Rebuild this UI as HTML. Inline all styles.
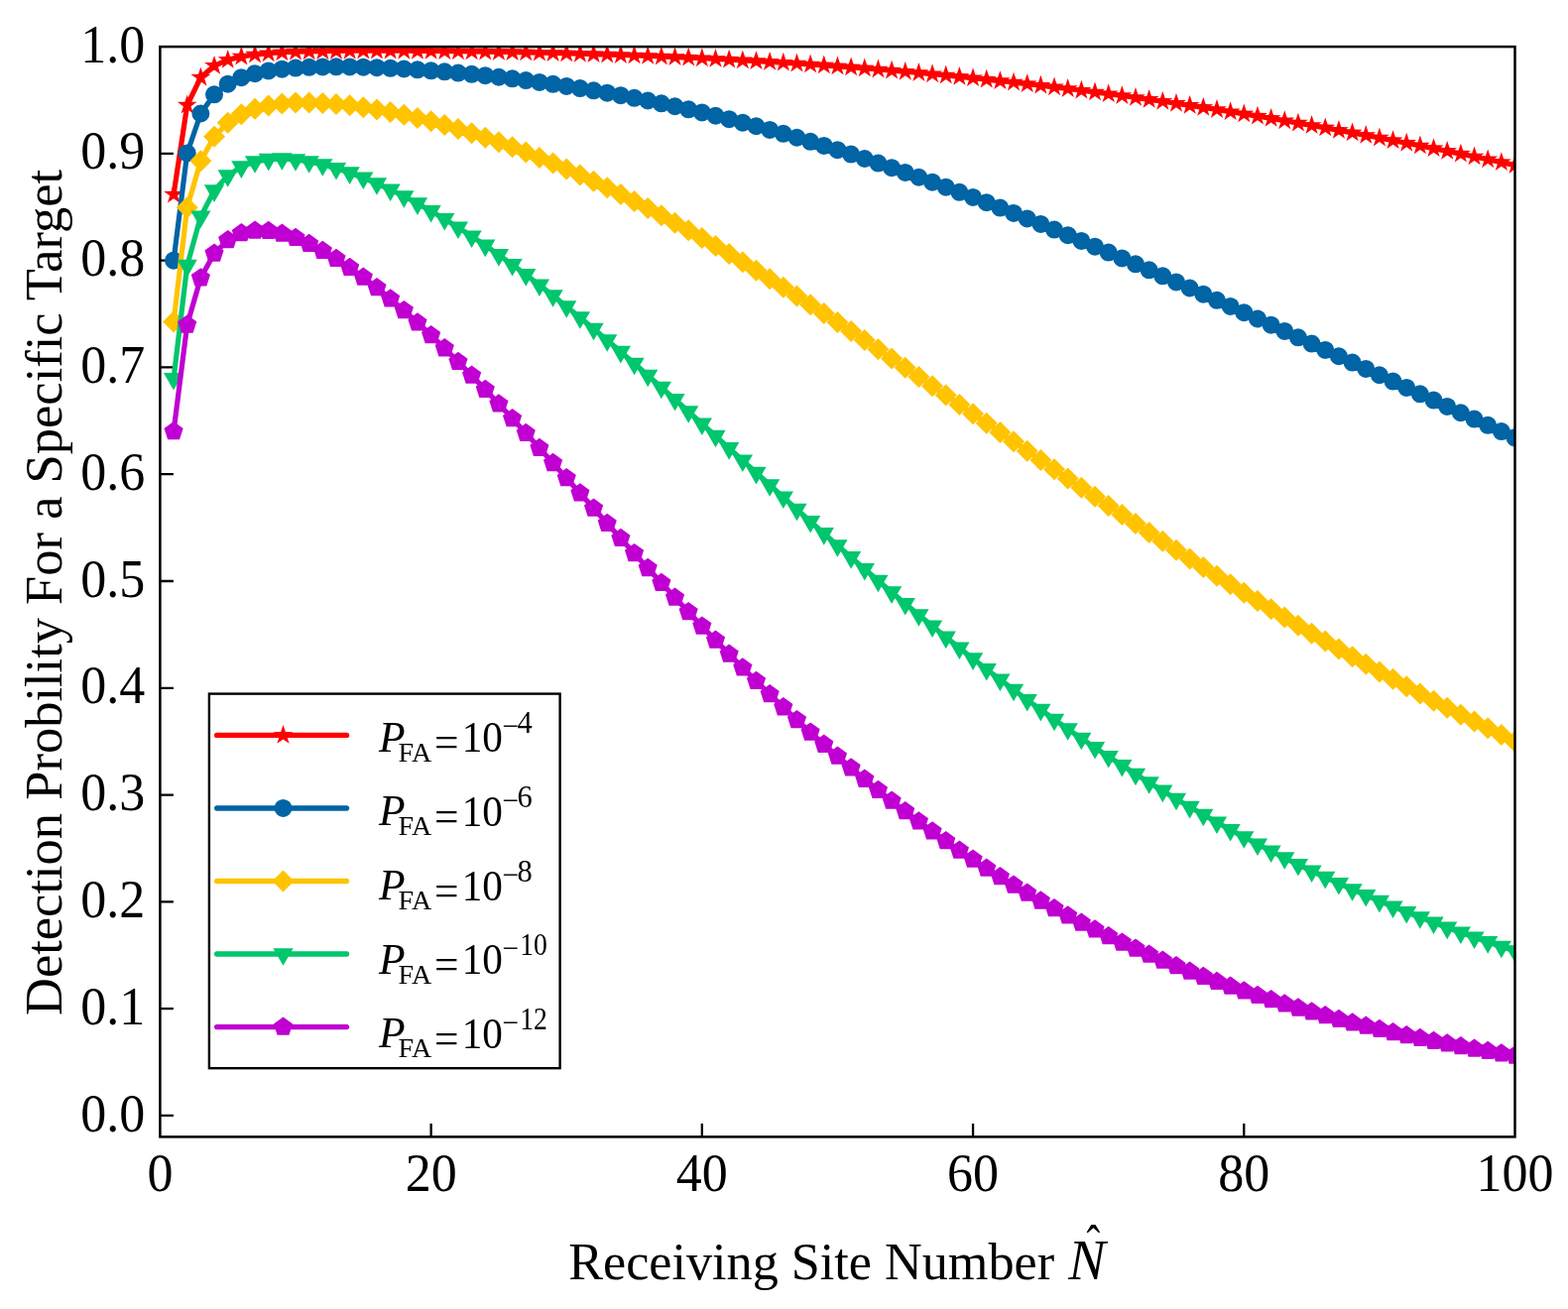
<!DOCTYPE html>
<html><head><meta charset="utf-8"><title>Detection Probability vs Receiving Site Number</title>
<style>
html,body{margin:0;padding:0;background:#fff;overflow:hidden;}
svg{display:block;}
text{font-family:"Liberation Serif","Times New Roman",serif;fill:#000;}
</style></head><body>
<svg width="1581" height="1320" viewBox="0 0 1581 1320">
<rect width="1581" height="1320" fill="#fff"/>
<defs><clipPath id="ax"><rect x="161.40" y="47.10" width="1366.10" height="1099.30"/></clipPath></defs>
<path d="M161.40,1017.12H174.90M161.40,909.34H174.90M161.40,801.56H174.90M161.40,693.78H174.90M161.40,586.00H174.90M161.40,478.22H174.90M161.40,370.44H174.90M161.40,262.66H174.90M161.40,154.88H174.90M161.40,1124.90H174.90M434.62,1146.40V1132.90M707.84,1146.40V1132.90M981.06,1146.40V1132.90M1254.28,1146.40V1132.90" stroke="#000" stroke-width="2.3" fill="none"/>
<g clip-path="url(#ax)">
<polyline fill="none" stroke="#FF0000" stroke-width="5.20" stroke-linejoin="round" stroke-linecap="round" points="175.06,196.11 188.72,106.02 202.38,78.11 216.04,66.32 229.71,60.40 243.37,57.07 257.03,55.04 270.69,53.74 284.35,52.87 298.01,52.27 311.67,51.86 325.33,51.57 338.99,51.38 352.65,51.26 366.31,51.19 379.98,51.18 393.64,51.19 407.30,51.25 420.96,51.33 434.62,51.44 448.28,51.57 461.94,51.73 475.60,51.92 489.26,52.12 502.92,52.35 516.59,52.60 530.25,52.88 543.91,53.17 557.57,53.50 571.23,53.84 584.89,54.21 598.55,54.61 612.21,55.03 625.87,55.48 639.53,55.95 653.20,56.46 666.86,56.99 680.52,57.55 694.18,58.14 707.84,58.77 721.50,59.42 735.16,60.11 748.82,60.83 762.48,61.58 776.14,62.37 789.81,63.19 803.47,64.05 817.13,64.95 830.79,65.88 844.45,66.85 858.11,67.86 871.77,68.90 885.43,69.99 899.09,71.11 912.75,72.28 926.42,73.48 940.08,74.73 953.74,76.01 967.40,77.34 981.06,78.71 994.72,80.12 1008.38,81.57 1022.04,83.07 1035.70,84.60 1049.37,86.18 1063.03,87.80 1076.69,89.47 1090.35,91.17 1104.01,92.92 1117.67,94.71 1131.33,96.54 1144.99,98.41 1158.65,100.33 1172.31,102.29 1185.98,104.28 1199.64,106.32 1213.30,108.40 1226.96,110.52 1240.62,112.68 1254.28,114.88 1267.94,117.12 1281.60,119.40 1295.26,121.72 1308.92,124.08 1322.59,126.47 1336.25,128.90 1349.91,131.37 1363.57,133.87 1377.23,136.41 1390.89,138.99 1404.55,141.60 1418.21,144.24 1431.87,146.92 1445.53,149.63 1459.19,152.37 1472.86,155.14 1486.52,157.95 1500.18,160.78 1513.84,163.65 1527.50,166.54"/>
<path fill="#FF0000" d="M175.06,185.71L172.68,192.83L165.17,192.90L171.20,197.36L168.95,204.52L175.06,200.17L181.17,204.52L178.92,197.36L184.95,192.90L177.45,192.83ZM188.72,95.62L186.34,102.74L178.83,102.81L184.86,107.28L182.61,114.44L188.72,110.08L194.83,114.44L192.58,107.28L198.61,102.81L191.11,102.74ZM202.38,67.71L200.00,74.83L192.49,74.90L198.53,79.37L196.27,86.53L202.38,82.17L208.50,86.53L206.24,79.37L212.27,74.90L204.77,74.83ZM216.04,55.92L213.66,63.04L206.15,63.11L212.19,67.58L209.93,74.74L216.04,70.38L222.16,74.74L219.90,67.58L225.93,63.11L218.43,63.04ZM229.71,50.00L227.32,57.12L219.81,57.19L225.85,61.65L223.59,68.81L229.71,64.46L235.82,68.81L233.56,61.65L239.60,57.19L232.09,57.12ZM243.37,46.67L240.98,53.79L233.48,53.86L239.51,58.32L237.25,65.48L243.37,61.13L249.48,65.48L247.22,58.32L253.26,53.86L245.75,53.79ZM257.03,44.64L254.64,51.76L247.14,51.83L253.17,56.30L250.91,63.46L257.03,59.10L263.14,63.46L260.88,56.30L266.92,51.83L259.41,51.76ZM270.69,43.34L268.30,50.46L260.80,50.53L266.83,54.99L264.58,62.16L270.69,57.80L276.80,62.16L274.55,54.99L280.58,50.53L273.07,50.46ZM284.35,42.47L281.96,49.59L274.46,49.66L280.49,54.12L278.24,61.28L284.35,56.93L290.46,61.28L288.21,54.12L294.24,49.66L286.73,49.59ZM298.01,41.87L295.63,48.99L288.12,49.06L294.15,53.53L291.90,60.69L298.01,56.33L304.12,60.69L301.87,53.53L307.90,49.06L300.39,48.99ZM311.67,41.46L309.29,48.58L301.78,48.64L307.81,53.11L305.56,60.27L311.67,55.91L317.78,60.27L315.53,53.11L321.56,48.64L314.06,48.58ZM325.33,41.17L322.95,48.29L315.44,48.36L321.47,52.83L319.22,59.99L325.33,55.63L331.44,59.99L329.19,52.83L335.22,48.36L327.72,48.29ZM338.99,40.98L336.61,48.10L329.10,48.17L335.14,52.63L332.88,59.79L338.99,55.44L345.11,59.79L342.85,52.63L348.88,48.17L341.38,48.10ZM352.65,40.86L350.27,47.98L342.76,48.05L348.80,52.51L346.54,59.67L352.65,55.32L358.77,59.67L356.51,52.51L362.54,48.05L355.04,47.98ZM366.31,40.79L363.93,47.91L356.42,47.98L362.46,52.45L360.20,59.61L366.31,55.25L372.43,59.61L370.17,52.45L376.21,47.98L368.70,47.91ZM379.98,40.78L377.59,47.89L370.09,47.96L376.12,52.43L373.86,59.59L379.98,55.23L386.09,59.59L383.83,52.43L389.87,47.96L382.36,47.89ZM393.64,40.79L391.25,47.91L383.75,47.98L389.78,52.45L387.52,59.61L393.64,55.25L399.75,59.61L397.49,52.45L403.53,47.98L396.02,47.91ZM407.30,40.85L404.91,47.97L397.41,48.03L403.44,52.50L401.19,59.66L407.30,55.30L413.41,59.66L411.16,52.50L417.19,48.03L409.68,47.97ZM420.96,40.93L418.57,48.05L411.07,48.12L417.10,52.58L414.85,59.74L420.96,55.39L427.07,59.74L424.82,52.58L430.85,48.12L423.34,48.05ZM434.62,41.04L432.24,48.16L424.73,48.23L430.76,52.69L428.51,59.85L434.62,55.50L440.73,59.85L438.48,52.69L444.51,48.23L437.00,48.16ZM448.28,41.17L445.90,48.29L438.39,48.36L444.42,52.83L442.17,59.99L448.28,55.63L454.39,59.99L452.14,52.83L458.17,48.36L450.67,48.29ZM461.94,41.33L459.56,48.45L452.05,48.52L458.08,52.99L455.83,60.15L461.94,55.79L468.05,60.15L465.80,52.99L471.83,48.52L464.33,48.45ZM475.60,41.52L473.22,48.64L465.71,48.70L471.75,53.17L469.49,60.33L475.60,55.97L481.72,60.33L479.46,53.17L485.49,48.70L477.99,48.64ZM489.26,41.72L486.88,48.84L479.37,48.91L485.41,53.38L483.15,60.54L489.26,56.18L495.38,60.54L493.12,53.38L499.15,48.91L491.65,48.84ZM502.92,41.95L500.54,49.07L493.03,49.14L499.07,53.60L496.81,60.76L502.92,56.41L509.04,60.76L506.78,53.60L512.82,49.14L505.31,49.07ZM516.59,42.20L514.20,49.32L506.70,49.39L512.73,53.86L510.47,61.02L516.59,56.66L522.70,61.02L520.44,53.86L526.48,49.39L518.97,49.32ZM530.25,42.48L527.86,49.60L520.36,49.66L526.39,54.13L524.13,61.29L530.25,56.93L536.36,61.29L534.10,54.13L540.14,49.66L532.63,49.60ZM543.91,42.77L541.52,49.89L534.02,49.96L540.05,54.43L537.80,61.59L543.91,57.23L550.02,61.59L547.77,54.43L553.80,49.96L546.29,49.89ZM557.57,43.10L555.18,50.21L547.68,50.28L553.71,54.75L551.46,61.91L557.57,57.55L563.68,61.91L561.43,54.75L567.46,50.28L559.95,50.21ZM571.23,43.44L568.85,50.56L561.34,50.63L567.37,55.09L565.12,62.26L571.23,57.90L577.34,62.26L575.09,55.09L581.12,50.63L573.61,50.56ZM584.89,43.81L582.51,50.93L575.00,51.00L581.03,55.47L578.78,62.63L584.89,58.27L591.00,62.63L588.75,55.47L594.78,51.00L587.28,50.93ZM598.55,44.21L596.17,51.33L588.66,51.39L594.69,55.86L592.44,63.02L598.55,58.66L604.66,63.02L602.41,55.86L608.44,51.39L600.94,51.33ZM612.21,44.63L609.83,51.75L602.32,51.82L608.36,56.28L606.10,63.44L612.21,59.09L618.33,63.44L616.07,56.28L622.10,51.82L614.60,51.75ZM625.87,45.08L623.49,52.20L615.98,52.26L622.02,56.73L619.76,63.89L625.87,59.53L631.99,63.89L629.73,56.73L635.76,52.26L628.26,52.20ZM639.53,45.55L637.15,52.67L629.64,52.74L635.68,57.21L633.42,64.37L639.53,60.01L645.65,64.37L643.39,57.21L649.43,52.74L641.92,52.67ZM653.20,46.06L650.81,53.18L643.31,53.24L649.34,57.71L647.08,64.87L653.20,60.51L659.31,64.87L657.05,57.71L663.09,53.24L655.58,53.18ZM666.86,46.59L664.47,53.71L656.97,53.78L663.00,58.24L660.74,65.40L666.86,61.05L672.97,65.40L670.71,58.24L676.75,53.78L669.24,53.71ZM680.52,47.15L678.13,54.27L670.63,54.34L676.66,58.80L674.41,65.96L680.52,61.61L686.63,65.96L684.38,58.80L690.41,54.34L682.90,54.27ZM694.18,47.74L691.79,54.86L684.29,54.93L690.32,59.40L688.07,66.56L694.18,62.20L700.29,66.56L698.04,59.40L704.07,54.93L696.56,54.86ZM707.84,48.37L705.46,55.48L697.95,55.55L703.98,60.02L701.73,67.18L707.84,62.82L713.95,67.18L711.70,60.02L717.73,55.55L710.22,55.48ZM721.50,49.02L719.12,56.14L711.61,56.21L717.64,60.67L715.39,67.83L721.50,63.48L727.61,67.83L725.36,60.67L731.39,56.21L723.89,56.14ZM735.16,49.71L732.78,56.83L725.27,56.89L731.30,61.36L729.05,68.52L735.16,64.16L741.27,68.52L739.02,61.36L745.05,56.89L737.55,56.83ZM748.82,50.43L746.44,57.55L738.93,57.61L744.97,62.08L742.71,69.24L748.82,64.88L754.94,69.24L752.68,62.08L758.71,57.61L751.21,57.55ZM762.48,51.18L760.10,58.30L752.59,58.37L758.63,62.84L756.37,70.00L762.48,65.64L768.60,70.00L766.34,62.84L772.37,58.37L764.87,58.30ZM776.14,51.97L773.76,59.09L766.25,59.16L772.29,63.62L770.03,70.78L776.14,66.43L782.26,70.78L780.00,63.62L786.04,59.16L778.53,59.09ZM789.81,52.79L787.42,59.91L779.92,59.98L785.95,64.45L783.69,71.61L789.81,67.25L795.92,71.61L793.66,64.45L799.70,59.98L792.19,59.91ZM803.47,53.65L801.08,60.77L793.58,60.84L799.61,65.31L797.35,72.47L803.47,68.11L809.58,72.47L807.32,65.31L813.36,60.84L805.85,60.77ZM817.13,54.55L814.74,61.67L807.24,61.73L813.27,66.20L811.02,73.36L817.13,69.00L823.24,73.36L820.99,66.20L827.02,61.73L819.51,61.67ZM830.79,55.48L828.40,62.60L820.90,62.67L826.93,67.13L824.68,74.29L830.79,69.94L836.90,74.29L834.65,67.13L840.68,62.67L833.17,62.60ZM844.45,56.45L842.07,63.57L834.56,63.64L840.59,68.10L838.34,75.26L844.45,70.91L850.56,75.26L848.31,68.10L854.34,63.64L846.83,63.57ZM858.11,57.46L855.73,64.58L848.22,64.64L854.25,69.11L852.00,76.27L858.11,71.91L864.22,76.27L861.97,69.11L868.00,64.64L860.50,64.58ZM871.77,58.50L869.39,65.62L861.88,65.69L867.91,70.16L865.66,77.32L871.77,72.96L877.88,77.32L875.63,70.16L881.66,65.69L874.16,65.62ZM885.43,59.59L883.05,66.71L875.54,66.78L881.58,71.24L879.32,78.40L885.43,74.04L891.55,78.40L889.29,71.24L895.32,66.78L887.82,66.71ZM899.09,60.71L896.71,67.83L889.20,67.90L895.24,72.37L892.98,79.53L899.09,75.17L905.21,79.53L902.95,72.37L908.98,67.90L901.48,67.83ZM912.75,61.88L910.37,69.00L902.86,69.06L908.90,73.53L906.64,80.69L912.75,76.33L918.87,80.69L916.61,73.53L922.65,69.06L915.14,69.00ZM926.42,63.08L924.03,70.20L916.53,70.27L922.56,74.74L920.30,81.90L926.42,77.54L932.53,81.90L930.27,74.74L936.31,70.27L928.80,70.20ZM940.08,64.33L937.69,71.45L930.19,71.51L936.22,75.98L933.96,83.14L940.08,78.78L946.19,83.14L943.93,75.98L949.97,71.51L942.46,71.45ZM953.74,65.61L951.35,72.73L943.85,72.80L949.88,77.27L947.63,84.43L953.74,80.07L959.85,84.43L957.60,77.27L963.63,72.80L956.12,72.73ZM967.40,66.94L965.01,74.06L957.51,74.13L963.54,78.59L961.29,85.75L967.40,81.40L973.51,85.75L971.26,78.59L977.29,74.13L969.78,74.06ZM981.06,68.31L978.68,75.43L971.17,75.50L977.20,79.96L974.95,87.12L981.06,82.77L987.17,87.12L984.92,79.96L990.95,75.50L983.44,75.43ZM994.72,69.72L992.34,76.84L984.83,76.91L990.86,81.37L988.61,88.53L994.72,84.18L1000.83,88.53L998.58,81.37L1004.61,76.91L997.11,76.84ZM1008.38,71.17L1006.00,78.29L998.49,78.36L1004.52,82.83L1002.27,89.99L1008.38,85.63L1014.49,89.99L1012.24,82.83L1018.27,78.36L1010.77,78.29ZM1022.04,72.67L1019.66,79.79L1012.15,79.85L1018.19,84.32L1015.93,91.48L1022.04,87.12L1028.16,91.48L1025.90,84.32L1031.93,79.85L1024.43,79.79ZM1035.70,74.20L1033.32,81.32L1025.81,81.39L1031.85,85.86L1029.59,93.02L1035.70,88.66L1041.82,93.02L1039.56,85.86L1045.59,81.39L1038.09,81.32ZM1049.37,75.78L1046.98,82.90L1039.47,82.97L1045.51,87.43L1043.25,94.60L1049.37,90.24L1055.48,94.60L1053.22,87.43L1059.26,82.97L1051.75,82.90ZM1063.03,77.40L1060.64,84.52L1053.14,84.59L1059.17,89.06L1056.91,96.22L1063.03,91.86L1069.14,96.22L1066.88,89.06L1072.92,84.59L1065.41,84.52ZM1076.69,79.07L1074.30,86.18L1066.80,86.25L1072.83,90.72L1070.57,97.88L1076.69,93.52L1082.80,97.88L1080.54,90.72L1086.58,86.25L1079.07,86.18ZM1090.35,80.77L1087.96,87.89L1080.46,87.96L1086.49,92.42L1084.24,99.58L1090.35,95.23L1096.46,99.58L1094.21,92.42L1100.24,87.96L1092.73,87.89ZM1104.01,82.52L1101.62,89.64L1094.12,89.70L1100.15,94.17L1097.90,101.33L1104.01,96.97L1110.12,101.33L1107.87,94.17L1113.90,89.70L1106.39,89.64ZM1117.67,84.31L1115.29,91.43L1107.78,91.49L1113.81,95.96L1111.56,103.12L1117.67,98.76L1123.78,103.12L1121.53,95.96L1127.56,91.49L1120.05,91.43ZM1131.33,86.14L1128.95,93.26L1121.44,93.33L1127.47,97.79L1125.22,104.95L1131.33,100.60L1137.44,104.95L1135.19,97.79L1141.22,93.33L1133.72,93.26ZM1144.99,88.01L1142.61,95.13L1135.10,95.20L1141.13,99.67L1138.88,106.83L1144.99,102.47L1151.10,106.83L1148.85,99.67L1154.88,95.20L1147.38,95.13ZM1158.65,89.93L1156.27,97.05L1148.76,97.11L1154.80,101.58L1152.54,108.74L1158.65,104.38L1164.77,108.74L1162.51,101.58L1168.54,97.11L1161.04,97.05ZM1172.31,91.89L1169.93,99.00L1162.42,99.07L1168.46,103.54L1166.20,110.70L1172.31,106.34L1178.43,110.70L1176.17,103.54L1182.20,99.07L1174.70,99.00ZM1185.98,93.88L1183.59,101.00L1176.08,101.07L1182.12,105.54L1179.86,112.70L1185.98,108.34L1192.09,112.70L1189.83,105.54L1195.87,101.07L1188.36,101.00ZM1199.64,95.92L1197.25,103.04L1189.75,103.11L1195.78,107.58L1193.52,114.74L1199.64,110.38L1205.75,114.74L1203.49,107.58L1209.53,103.11L1202.02,103.04ZM1213.30,98.00L1210.91,105.12L1203.41,105.19L1209.44,109.66L1207.18,116.82L1213.30,112.46L1219.41,116.82L1217.15,109.66L1223.19,105.19L1215.68,105.12ZM1226.96,100.12L1224.57,107.24L1217.07,107.31L1223.10,111.78L1220.85,118.94L1226.96,114.58L1233.07,118.94L1230.82,111.78L1236.85,107.31L1229.34,107.24ZM1240.62,102.28L1238.23,109.40L1230.73,109.47L1236.76,113.94L1234.51,121.10L1240.62,116.74L1246.73,121.10L1244.48,113.94L1250.51,109.47L1243.00,109.40ZM1254.28,104.48L1251.90,111.60L1244.39,111.67L1250.42,116.14L1248.17,123.30L1254.28,118.94L1260.39,123.30L1258.14,116.14L1264.17,111.67L1256.66,111.60ZM1267.94,106.72L1265.56,113.84L1258.05,113.91L1264.08,118.38L1261.83,125.54L1267.94,121.18L1274.05,125.54L1271.80,118.38L1277.83,113.91L1270.33,113.84ZM1281.60,109.00L1279.22,116.12L1271.71,116.19L1277.74,120.66L1275.49,127.82L1281.60,123.46L1287.71,127.82L1285.46,120.66L1291.49,116.19L1283.99,116.12ZM1295.26,111.32L1292.88,118.44L1285.37,118.51L1291.41,122.97L1289.15,130.14L1295.26,125.78L1301.38,130.14L1299.12,122.97L1305.15,118.51L1297.65,118.44ZM1308.92,113.68L1306.54,120.80L1299.03,120.86L1305.07,125.33L1302.81,132.49L1308.92,128.13L1315.04,132.49L1312.78,125.33L1318.81,120.86L1311.31,120.80ZM1322.59,116.07L1320.20,123.19L1312.69,123.26L1318.73,127.72L1316.47,134.88L1322.59,130.53L1328.70,134.88L1326.44,127.72L1332.48,123.26L1324.97,123.19ZM1336.25,118.50L1333.86,125.62L1326.36,125.69L1332.39,130.16L1330.13,137.32L1336.25,132.96L1342.36,137.32L1340.10,130.16L1346.14,125.69L1338.63,125.62ZM1349.91,120.97L1347.52,128.09L1340.02,128.16L1346.05,132.62L1343.79,139.78L1349.91,135.43L1356.02,139.78L1353.76,132.62L1359.80,128.16L1352.29,128.09ZM1363.57,123.47L1361.18,130.59L1353.68,130.66L1359.71,135.13L1357.46,142.29L1363.57,137.93L1369.68,142.29L1367.43,135.13L1373.46,130.66L1365.95,130.59ZM1377.23,126.01L1374.84,133.13L1367.34,133.20L1373.37,137.67L1371.12,144.83L1377.23,140.47L1383.34,144.83L1381.09,137.67L1387.12,133.20L1379.61,133.13ZM1390.89,128.59L1388.51,135.71L1381.00,135.77L1387.03,140.24L1384.78,147.40L1390.89,143.04L1397.00,147.40L1394.75,140.24L1400.78,135.77L1393.27,135.71ZM1404.55,131.20L1402.17,138.32L1394.66,138.38L1400.69,142.85L1398.44,150.01L1404.55,145.65L1410.66,150.01L1408.41,142.85L1414.44,138.38L1406.94,138.32ZM1418.21,133.84L1415.83,140.96L1408.32,141.03L1414.35,145.49L1412.10,152.65L1418.21,148.30L1424.32,152.65L1422.07,145.49L1428.10,141.03L1420.60,140.96ZM1431.87,136.52L1429.49,143.64L1421.98,143.70L1428.02,148.17L1425.76,155.33L1431.87,150.97L1437.99,155.33L1435.73,148.17L1441.76,143.70L1434.26,143.64ZM1445.53,139.23L1443.15,146.35L1435.64,146.41L1441.68,150.88L1439.42,158.04L1445.53,153.68L1451.65,158.04L1449.39,150.88L1455.42,146.41L1447.92,146.35ZM1459.19,141.97L1456.81,149.09L1449.30,149.16L1455.34,153.62L1453.08,160.78L1459.19,156.43L1465.31,160.78L1463.05,153.62L1469.09,149.16L1461.58,149.09ZM1472.86,144.74L1470.47,151.86L1462.97,151.93L1469.00,156.40L1466.74,163.56L1472.86,159.20L1478.97,163.56L1476.71,156.40L1482.75,151.93L1475.24,151.86ZM1486.52,147.55L1484.13,154.67L1476.63,154.73L1482.66,159.20L1480.40,166.36L1486.52,162.00L1492.63,166.36L1490.37,159.20L1496.41,154.73L1488.90,154.67ZM1500.18,150.38L1497.79,157.50L1490.29,157.57L1496.32,162.04L1494.07,169.20L1500.18,164.84L1506.29,169.20L1504.04,162.04L1510.07,157.57L1502.56,157.50ZM1513.84,153.25L1511.45,160.37L1503.95,160.44L1509.98,164.90L1507.73,172.06L1513.84,167.71L1519.95,172.06L1517.70,164.90L1523.73,160.44L1516.22,160.37ZM1527.50,156.14L1525.12,163.26L1517.61,163.33L1523.64,167.80L1521.39,174.96L1527.50,170.60L1533.61,174.96L1531.36,167.80L1537.39,163.33L1529.88,163.26Z"/>
<polyline fill="none" stroke="#0064A5" stroke-width="5.20" stroke-linejoin="round" stroke-linecap="round" points="175.06,262.70 188.72,154.48 202.38,114.51 216.04,95.28 229.71,84.63 243.37,78.21 257.03,74.13 270.69,71.45 284.35,69.68 298.01,68.52 311.67,67.82 325.33,67.44 338.99,67.34 352.65,67.44 366.31,67.73 379.98,68.18 393.64,68.77 407.30,69.49 420.96,70.33 434.62,71.29 448.28,72.36 461.94,73.55 475.60,74.84 489.26,76.23 502.92,77.74 516.59,79.35 530.25,81.07 543.91,82.90 557.57,84.84 571.23,86.88 584.89,89.04 598.55,91.30 612.21,93.68 625.87,96.17 639.53,98.77 653.20,101.49 666.86,104.31 680.52,107.25 694.18,110.31 707.84,113.47 721.50,116.75 735.16,120.14 748.82,123.64 762.48,127.26 776.14,130.98 789.81,134.81 803.47,138.75 817.13,142.79 830.79,146.94 844.45,151.19 858.11,155.54 871.77,160.00 885.43,164.55 899.09,169.19 912.75,173.93 926.42,178.76 940.08,183.68 953.74,188.69 967.40,193.77 981.06,198.94 994.72,204.19 1008.38,209.52 1022.04,214.92 1035.70,220.39 1049.37,225.92 1063.03,231.52 1076.69,237.19 1090.35,242.91 1104.01,248.69 1117.67,254.53 1131.33,260.41 1144.99,266.34 1158.65,272.32 1172.31,278.34 1185.98,284.40 1199.64,290.50 1213.30,296.63 1226.96,302.79 1240.62,308.98 1254.28,315.20 1267.94,321.44 1281.60,327.70 1295.26,333.98 1308.92,340.28 1322.59,346.59 1336.25,352.91 1349.91,359.24 1363.57,365.58 1377.23,371.92 1390.89,378.26 1404.55,384.60 1418.21,390.94 1431.87,397.28 1445.53,403.61 1459.19,409.93 1472.86,416.25 1486.52,422.55 1500.18,428.84 1513.84,435.11 1527.50,441.37"/>
<path fill="#0064A5" d="M166.06,262.70a9.00,9.00 0 1,0 18.00,0a9.00,9.00 0 1,0 -18.00,0ZM179.72,154.48a9.00,9.00 0 1,0 18.00,0a9.00,9.00 0 1,0 -18.00,0ZM193.38,114.51a9.00,9.00 0 1,0 18.00,0a9.00,9.00 0 1,0 -18.00,0ZM207.04,95.28a9.00,9.00 0 1,0 18.00,0a9.00,9.00 0 1,0 -18.00,0ZM220.71,84.63a9.00,9.00 0 1,0 18.00,0a9.00,9.00 0 1,0 -18.00,0ZM234.37,78.21a9.00,9.00 0 1,0 18.00,0a9.00,9.00 0 1,0 -18.00,0ZM248.03,74.13a9.00,9.00 0 1,0 18.00,0a9.00,9.00 0 1,0 -18.00,0ZM261.69,71.45a9.00,9.00 0 1,0 18.00,0a9.00,9.00 0 1,0 -18.00,0ZM275.35,69.68a9.00,9.00 0 1,0 18.00,0a9.00,9.00 0 1,0 -18.00,0ZM289.01,68.52a9.00,9.00 0 1,0 18.00,0a9.00,9.00 0 1,0 -18.00,0ZM302.67,67.82a9.00,9.00 0 1,0 18.00,0a9.00,9.00 0 1,0 -18.00,0ZM316.33,67.44a9.00,9.00 0 1,0 18.00,0a9.00,9.00 0 1,0 -18.00,0ZM329.99,67.34a9.00,9.00 0 1,0 18.00,0a9.00,9.00 0 1,0 -18.00,0ZM343.65,67.44a9.00,9.00 0 1,0 18.00,0a9.00,9.00 0 1,0 -18.00,0ZM357.31,67.73a9.00,9.00 0 1,0 18.00,0a9.00,9.00 0 1,0 -18.00,0ZM370.98,68.18a9.00,9.00 0 1,0 18.00,0a9.00,9.00 0 1,0 -18.00,0ZM384.64,68.77a9.00,9.00 0 1,0 18.00,0a9.00,9.00 0 1,0 -18.00,0ZM398.30,69.49a9.00,9.00 0 1,0 18.00,0a9.00,9.00 0 1,0 -18.00,0ZM411.96,70.33a9.00,9.00 0 1,0 18.00,0a9.00,9.00 0 1,0 -18.00,0ZM425.62,71.29a9.00,9.00 0 1,0 18.00,0a9.00,9.00 0 1,0 -18.00,0ZM439.28,72.36a9.00,9.00 0 1,0 18.00,0a9.00,9.00 0 1,0 -18.00,0ZM452.94,73.55a9.00,9.00 0 1,0 18.00,0a9.00,9.00 0 1,0 -18.00,0ZM466.60,74.84a9.00,9.00 0 1,0 18.00,0a9.00,9.00 0 1,0 -18.00,0ZM480.26,76.23a9.00,9.00 0 1,0 18.00,0a9.00,9.00 0 1,0 -18.00,0ZM493.92,77.74a9.00,9.00 0 1,0 18.00,0a9.00,9.00 0 1,0 -18.00,0ZM507.59,79.35a9.00,9.00 0 1,0 18.00,0a9.00,9.00 0 1,0 -18.00,0ZM521.25,81.07a9.00,9.00 0 1,0 18.00,0a9.00,9.00 0 1,0 -18.00,0ZM534.91,82.90a9.00,9.00 0 1,0 18.00,0a9.00,9.00 0 1,0 -18.00,0ZM548.57,84.84a9.00,9.00 0 1,0 18.00,0a9.00,9.00 0 1,0 -18.00,0ZM562.23,86.88a9.00,9.00 0 1,0 18.00,0a9.00,9.00 0 1,0 -18.00,0ZM575.89,89.04a9.00,9.00 0 1,0 18.00,0a9.00,9.00 0 1,0 -18.00,0ZM589.55,91.30a9.00,9.00 0 1,0 18.00,0a9.00,9.00 0 1,0 -18.00,0ZM603.21,93.68a9.00,9.00 0 1,0 18.00,0a9.00,9.00 0 1,0 -18.00,0ZM616.87,96.17a9.00,9.00 0 1,0 18.00,0a9.00,9.00 0 1,0 -18.00,0ZM630.53,98.77a9.00,9.00 0 1,0 18.00,0a9.00,9.00 0 1,0 -18.00,0ZM644.20,101.49a9.00,9.00 0 1,0 18.00,0a9.00,9.00 0 1,0 -18.00,0ZM657.86,104.31a9.00,9.00 0 1,0 18.00,0a9.00,9.00 0 1,0 -18.00,0ZM671.52,107.25a9.00,9.00 0 1,0 18.00,0a9.00,9.00 0 1,0 -18.00,0ZM685.18,110.31a9.00,9.00 0 1,0 18.00,0a9.00,9.00 0 1,0 -18.00,0ZM698.84,113.47a9.00,9.00 0 1,0 18.00,0a9.00,9.00 0 1,0 -18.00,0ZM712.50,116.75a9.00,9.00 0 1,0 18.00,0a9.00,9.00 0 1,0 -18.00,0ZM726.16,120.14a9.00,9.00 0 1,0 18.00,0a9.00,9.00 0 1,0 -18.00,0ZM739.82,123.64a9.00,9.00 0 1,0 18.00,0a9.00,9.00 0 1,0 -18.00,0ZM753.48,127.26a9.00,9.00 0 1,0 18.00,0a9.00,9.00 0 1,0 -18.00,0ZM767.14,130.98a9.00,9.00 0 1,0 18.00,0a9.00,9.00 0 1,0 -18.00,0ZM780.81,134.81a9.00,9.00 0 1,0 18.00,0a9.00,9.00 0 1,0 -18.00,0ZM794.47,138.75a9.00,9.00 0 1,0 18.00,0a9.00,9.00 0 1,0 -18.00,0ZM808.13,142.79a9.00,9.00 0 1,0 18.00,0a9.00,9.00 0 1,0 -18.00,0ZM821.79,146.94a9.00,9.00 0 1,0 18.00,0a9.00,9.00 0 1,0 -18.00,0ZM835.45,151.19a9.00,9.00 0 1,0 18.00,0a9.00,9.00 0 1,0 -18.00,0ZM849.11,155.54a9.00,9.00 0 1,0 18.00,0a9.00,9.00 0 1,0 -18.00,0ZM862.77,160.00a9.00,9.00 0 1,0 18.00,0a9.00,9.00 0 1,0 -18.00,0ZM876.43,164.55a9.00,9.00 0 1,0 18.00,0a9.00,9.00 0 1,0 -18.00,0ZM890.09,169.19a9.00,9.00 0 1,0 18.00,0a9.00,9.00 0 1,0 -18.00,0ZM903.75,173.93a9.00,9.00 0 1,0 18.00,0a9.00,9.00 0 1,0 -18.00,0ZM917.42,178.76a9.00,9.00 0 1,0 18.00,0a9.00,9.00 0 1,0 -18.00,0ZM931.08,183.68a9.00,9.00 0 1,0 18.00,0a9.00,9.00 0 1,0 -18.00,0ZM944.74,188.69a9.00,9.00 0 1,0 18.00,0a9.00,9.00 0 1,0 -18.00,0ZM958.40,193.77a9.00,9.00 0 1,0 18.00,0a9.00,9.00 0 1,0 -18.00,0ZM972.06,198.94a9.00,9.00 0 1,0 18.00,0a9.00,9.00 0 1,0 -18.00,0ZM985.72,204.19a9.00,9.00 0 1,0 18.00,0a9.00,9.00 0 1,0 -18.00,0ZM999.38,209.52a9.00,9.00 0 1,0 18.00,0a9.00,9.00 0 1,0 -18.00,0ZM1013.04,214.92a9.00,9.00 0 1,0 18.00,0a9.00,9.00 0 1,0 -18.00,0ZM1026.70,220.39a9.00,9.00 0 1,0 18.00,0a9.00,9.00 0 1,0 -18.00,0ZM1040.37,225.92a9.00,9.00 0 1,0 18.00,0a9.00,9.00 0 1,0 -18.00,0ZM1054.03,231.52a9.00,9.00 0 1,0 18.00,0a9.00,9.00 0 1,0 -18.00,0ZM1067.69,237.19a9.00,9.00 0 1,0 18.00,0a9.00,9.00 0 1,0 -18.00,0ZM1081.35,242.91a9.00,9.00 0 1,0 18.00,0a9.00,9.00 0 1,0 -18.00,0ZM1095.01,248.69a9.00,9.00 0 1,0 18.00,0a9.00,9.00 0 1,0 -18.00,0ZM1108.67,254.53a9.00,9.00 0 1,0 18.00,0a9.00,9.00 0 1,0 -18.00,0ZM1122.33,260.41a9.00,9.00 0 1,0 18.00,0a9.00,9.00 0 1,0 -18.00,0ZM1135.99,266.34a9.00,9.00 0 1,0 18.00,0a9.00,9.00 0 1,0 -18.00,0ZM1149.65,272.32a9.00,9.00 0 1,0 18.00,0a9.00,9.00 0 1,0 -18.00,0ZM1163.31,278.34a9.00,9.00 0 1,0 18.00,0a9.00,9.00 0 1,0 -18.00,0ZM1176.98,284.40a9.00,9.00 0 1,0 18.00,0a9.00,9.00 0 1,0 -18.00,0ZM1190.64,290.50a9.00,9.00 0 1,0 18.00,0a9.00,9.00 0 1,0 -18.00,0ZM1204.30,296.63a9.00,9.00 0 1,0 18.00,0a9.00,9.00 0 1,0 -18.00,0ZM1217.96,302.79a9.00,9.00 0 1,0 18.00,0a9.00,9.00 0 1,0 -18.00,0ZM1231.62,308.98a9.00,9.00 0 1,0 18.00,0a9.00,9.00 0 1,0 -18.00,0ZM1245.28,315.20a9.00,9.00 0 1,0 18.00,0a9.00,9.00 0 1,0 -18.00,0ZM1258.94,321.44a9.00,9.00 0 1,0 18.00,0a9.00,9.00 0 1,0 -18.00,0ZM1272.60,327.70a9.00,9.00 0 1,0 18.00,0a9.00,9.00 0 1,0 -18.00,0ZM1286.26,333.98a9.00,9.00 0 1,0 18.00,0a9.00,9.00 0 1,0 -18.00,0ZM1299.92,340.28a9.00,9.00 0 1,0 18.00,0a9.00,9.00 0 1,0 -18.00,0ZM1313.59,346.59a9.00,9.00 0 1,0 18.00,0a9.00,9.00 0 1,0 -18.00,0ZM1327.25,352.91a9.00,9.00 0 1,0 18.00,0a9.00,9.00 0 1,0 -18.00,0ZM1340.91,359.24a9.00,9.00 0 1,0 18.00,0a9.00,9.00 0 1,0 -18.00,0ZM1354.57,365.58a9.00,9.00 0 1,0 18.00,0a9.00,9.00 0 1,0 -18.00,0ZM1368.23,371.92a9.00,9.00 0 1,0 18.00,0a9.00,9.00 0 1,0 -18.00,0ZM1381.89,378.26a9.00,9.00 0 1,0 18.00,0a9.00,9.00 0 1,0 -18.00,0ZM1395.55,384.60a9.00,9.00 0 1,0 18.00,0a9.00,9.00 0 1,0 -18.00,0ZM1409.21,390.94a9.00,9.00 0 1,0 18.00,0a9.00,9.00 0 1,0 -18.00,0ZM1422.87,397.28a9.00,9.00 0 1,0 18.00,0a9.00,9.00 0 1,0 -18.00,0ZM1436.53,403.61a9.00,9.00 0 1,0 18.00,0a9.00,9.00 0 1,0 -18.00,0ZM1450.19,409.93a9.00,9.00 0 1,0 18.00,0a9.00,9.00 0 1,0 -18.00,0ZM1463.86,416.25a9.00,9.00 0 1,0 18.00,0a9.00,9.00 0 1,0 -18.00,0ZM1477.52,422.55a9.00,9.00 0 1,0 18.00,0a9.00,9.00 0 1,0 -18.00,0ZM1491.18,428.84a9.00,9.00 0 1,0 18.00,0a9.00,9.00 0 1,0 -18.00,0ZM1504.84,435.11a9.00,9.00 0 1,0 18.00,0a9.00,9.00 0 1,0 -18.00,0ZM1518.50,441.37a9.00,9.00 0 1,0 18.00,0a9.00,9.00 0 1,0 -18.00,0Z"/>
<polyline fill="none" stroke="#FFC300" stroke-width="5.20" stroke-linejoin="round" stroke-linecap="round" points="175.06,324.52 188.72,209.34 202.38,162.20 216.04,137.86 229.71,123.79 243.37,115.16 257.03,109.74 270.69,106.39 284.35,104.45 298.01,103.53 311.67,103.40 325.33,103.89 338.99,104.90 352.65,106.36 366.31,108.21 379.98,110.42 393.64,112.95 407.30,115.79 420.96,118.92 434.62,122.34 448.28,126.02 461.94,129.97 475.60,134.18 489.26,138.64 502.92,143.35 516.59,148.30 530.25,153.48 543.91,158.90 557.57,164.54 571.23,170.41 584.89,176.50 598.55,182.80 612.21,189.31 625.87,196.01 639.53,202.92 653.20,210.01 666.86,217.28 680.52,224.73 694.18,232.34 707.84,240.12 721.50,248.05 735.16,256.12 748.82,264.33 762.48,272.67 776.14,281.13 789.81,289.71 803.47,298.39 817.13,307.17 830.79,316.04 844.45,324.99 858.11,334.01 871.77,343.10 885.43,352.25 899.09,361.45 912.75,370.69 926.42,379.97 940.08,389.28 953.74,398.60 967.40,407.95 981.06,417.30 994.72,426.65 1008.38,436.00 1022.04,445.34 1035.70,454.66 1049.37,463.96 1063.03,473.23 1076.69,482.47 1090.35,491.67 1104.01,500.83 1117.67,509.95 1131.33,519.01 1144.99,528.02 1158.65,536.97 1172.31,545.85 1185.98,554.68 1199.64,563.43 1213.30,572.11 1226.96,580.72 1240.62,589.25 1254.28,597.70 1267.94,606.06 1281.60,614.35 1295.26,622.55 1308.92,630.65 1322.59,638.68 1336.25,646.61 1349.91,654.44 1363.57,662.19 1377.23,669.84 1390.89,677.40 1404.55,684.86 1418.21,692.22 1431.87,699.49 1445.53,706.66 1459.19,713.73 1472.86,720.70 1486.52,727.58 1500.18,734.36 1513.84,741.04 1527.50,747.63"/>
<path fill="#FFC300" d="M175.06,313.52L186.06,324.52L175.06,335.52L164.06,324.52ZM188.72,198.34L199.72,209.34L188.72,220.34L177.72,209.34ZM202.38,151.20L213.38,162.20L202.38,173.20L191.38,162.20ZM216.04,126.86L227.04,137.86L216.04,148.86L205.04,137.86ZM229.71,112.79L240.71,123.79L229.71,134.79L218.71,123.79ZM243.37,104.16L254.37,115.16L243.37,126.16L232.37,115.16ZM257.03,98.74L268.03,109.74L257.03,120.74L246.03,109.74ZM270.69,95.39L281.69,106.39L270.69,117.39L259.69,106.39ZM284.35,93.45L295.35,104.45L284.35,115.45L273.35,104.45ZM298.01,92.53L309.01,103.53L298.01,114.53L287.01,103.53ZM311.67,92.40L322.67,103.40L311.67,114.40L300.67,103.40ZM325.33,92.89L336.33,103.89L325.33,114.89L314.33,103.89ZM338.99,93.90L349.99,104.90L338.99,115.90L327.99,104.90ZM352.65,95.36L363.65,106.36L352.65,117.36L341.65,106.36ZM366.31,97.21L377.31,108.21L366.31,119.21L355.31,108.21ZM379.98,99.42L390.98,110.42L379.98,121.42L368.98,110.42ZM393.64,101.95L404.64,112.95L393.64,123.95L382.64,112.95ZM407.30,104.79L418.30,115.79L407.30,126.79L396.30,115.79ZM420.96,107.92L431.96,118.92L420.96,129.92L409.96,118.92ZM434.62,111.34L445.62,122.34L434.62,133.34L423.62,122.34ZM448.28,115.02L459.28,126.02L448.28,137.02L437.28,126.02ZM461.94,118.97L472.94,129.97L461.94,140.97L450.94,129.97ZM475.60,123.18L486.60,134.18L475.60,145.18L464.60,134.18ZM489.26,127.64L500.26,138.64L489.26,149.64L478.26,138.64ZM502.92,132.35L513.92,143.35L502.92,154.35L491.92,143.35ZM516.59,137.30L527.59,148.30L516.59,159.30L505.59,148.30ZM530.25,142.48L541.25,153.48L530.25,164.48L519.25,153.48ZM543.91,147.90L554.91,158.90L543.91,169.90L532.91,158.90ZM557.57,153.54L568.57,164.54L557.57,175.54L546.57,164.54ZM571.23,159.41L582.23,170.41L571.23,181.41L560.23,170.41ZM584.89,165.50L595.89,176.50L584.89,187.50L573.89,176.50ZM598.55,171.80L609.55,182.80L598.55,193.80L587.55,182.80ZM612.21,178.31L623.21,189.31L612.21,200.31L601.21,189.31ZM625.87,185.01L636.87,196.01L625.87,207.01L614.87,196.01ZM639.53,191.92L650.53,202.92L639.53,213.92L628.53,202.92ZM653.20,199.01L664.20,210.01L653.20,221.01L642.20,210.01ZM666.86,206.28L677.86,217.28L666.86,228.28L655.86,217.28ZM680.52,213.73L691.52,224.73L680.52,235.73L669.52,224.73ZM694.18,221.34L705.18,232.34L694.18,243.34L683.18,232.34ZM707.84,229.12L718.84,240.12L707.84,251.12L696.84,240.12ZM721.50,237.05L732.50,248.05L721.50,259.05L710.50,248.05ZM735.16,245.12L746.16,256.12L735.16,267.12L724.16,256.12ZM748.82,253.33L759.82,264.33L748.82,275.33L737.82,264.33ZM762.48,261.67L773.48,272.67L762.48,283.67L751.48,272.67ZM776.14,270.13L787.14,281.13L776.14,292.13L765.14,281.13ZM789.81,278.71L800.81,289.71L789.81,300.71L778.81,289.71ZM803.47,287.39L814.47,298.39L803.47,309.39L792.47,298.39ZM817.13,296.17L828.13,307.17L817.13,318.17L806.13,307.17ZM830.79,305.04L841.79,316.04L830.79,327.04L819.79,316.04ZM844.45,313.99L855.45,324.99L844.45,335.99L833.45,324.99ZM858.11,323.01L869.11,334.01L858.11,345.01L847.11,334.01ZM871.77,332.10L882.77,343.10L871.77,354.10L860.77,343.10ZM885.43,341.25L896.43,352.25L885.43,363.25L874.43,352.25ZM899.09,350.45L910.09,361.45L899.09,372.45L888.09,361.45ZM912.75,359.69L923.75,370.69L912.75,381.69L901.75,370.69ZM926.42,368.97L937.42,379.97L926.42,390.97L915.42,379.97ZM940.08,378.28L951.08,389.28L940.08,400.28L929.08,389.28ZM953.74,387.60L964.74,398.60L953.74,409.60L942.74,398.60ZM967.40,396.95L978.40,407.95L967.40,418.95L956.40,407.95ZM981.06,406.30L992.06,417.30L981.06,428.30L970.06,417.30ZM994.72,415.65L1005.72,426.65L994.72,437.65L983.72,426.65ZM1008.38,425.00L1019.38,436.00L1008.38,447.00L997.38,436.00ZM1022.04,434.34L1033.04,445.34L1022.04,456.34L1011.04,445.34ZM1035.70,443.66L1046.70,454.66L1035.70,465.66L1024.70,454.66ZM1049.37,452.96L1060.37,463.96L1049.37,474.96L1038.37,463.96ZM1063.03,462.23L1074.03,473.23L1063.03,484.23L1052.03,473.23ZM1076.69,471.47L1087.69,482.47L1076.69,493.47L1065.69,482.47ZM1090.35,480.67L1101.35,491.67L1090.35,502.67L1079.35,491.67ZM1104.01,489.83L1115.01,500.83L1104.01,511.83L1093.01,500.83ZM1117.67,498.95L1128.67,509.95L1117.67,520.95L1106.67,509.95ZM1131.33,508.01L1142.33,519.01L1131.33,530.01L1120.33,519.01ZM1144.99,517.02L1155.99,528.02L1144.99,539.02L1133.99,528.02ZM1158.65,525.97L1169.65,536.97L1158.65,547.97L1147.65,536.97ZM1172.31,534.85L1183.31,545.85L1172.31,556.85L1161.31,545.85ZM1185.98,543.68L1196.98,554.68L1185.98,565.68L1174.98,554.68ZM1199.64,552.43L1210.64,563.43L1199.64,574.43L1188.64,563.43ZM1213.30,561.11L1224.30,572.11L1213.30,583.11L1202.30,572.11ZM1226.96,569.72L1237.96,580.72L1226.96,591.72L1215.96,580.72ZM1240.62,578.25L1251.62,589.25L1240.62,600.25L1229.62,589.25ZM1254.28,586.70L1265.28,597.70L1254.28,608.70L1243.28,597.70ZM1267.94,595.06L1278.94,606.06L1267.94,617.06L1256.94,606.06ZM1281.60,603.35L1292.60,614.35L1281.60,625.35L1270.60,614.35ZM1295.26,611.55L1306.26,622.55L1295.26,633.55L1284.26,622.55ZM1308.92,619.65L1319.92,630.65L1308.92,641.65L1297.92,630.65ZM1322.59,627.68L1333.59,638.68L1322.59,649.68L1311.59,638.68ZM1336.25,635.61L1347.25,646.61L1336.25,657.61L1325.25,646.61ZM1349.91,643.44L1360.91,654.44L1349.91,665.44L1338.91,654.44ZM1363.57,651.19L1374.57,662.19L1363.57,673.19L1352.57,662.19ZM1377.23,658.84L1388.23,669.84L1377.23,680.84L1366.23,669.84ZM1390.89,666.40L1401.89,677.40L1390.89,688.40L1379.89,677.40ZM1404.55,673.86L1415.55,684.86L1404.55,695.86L1393.55,684.86ZM1418.21,681.22L1429.21,692.22L1418.21,703.22L1407.21,692.22ZM1431.87,688.49L1442.87,699.49L1431.87,710.49L1420.87,699.49ZM1445.53,695.66L1456.53,706.66L1445.53,717.66L1434.53,706.66ZM1459.19,702.73L1470.19,713.73L1459.19,724.73L1448.19,713.73ZM1472.86,709.70L1483.86,720.70L1472.86,731.70L1461.86,720.70ZM1486.52,716.58L1497.52,727.58L1486.52,738.58L1475.52,727.58ZM1500.18,723.36L1511.18,734.36L1500.18,745.36L1489.18,734.36ZM1513.84,730.04L1524.84,741.04L1513.84,752.04L1502.84,741.04ZM1527.50,736.63L1538.50,747.63L1527.50,758.63L1516.50,747.63Z"/>
<polyline fill="none" stroke="#00C66D" stroke-width="5.20" stroke-linejoin="round" stroke-linecap="round" points="175.06,381.90 188.72,267.71 202.38,218.37 216.04,192.20 229.71,177.09 243.37,168.18 257.03,163.14 270.69,160.70 284.35,160.14 298.01,161.01 311.67,163.02 325.33,165.98 338.99,169.74 352.65,174.22 366.31,179.33 379.98,185.03 393.64,191.26 407.30,198.00 420.96,205.21 434.62,212.86 448.28,220.92 461.94,229.39 475.60,238.24 489.26,247.43 502.92,256.97 516.59,266.82 530.25,276.97 543.91,287.40 557.57,298.08 571.23,309.01 584.89,320.15 598.55,331.50 612.21,343.03 625.87,354.72 639.53,366.56 653.20,378.52 666.86,390.59 680.52,402.75 694.18,414.99 707.84,427.28 721.50,439.61 735.16,451.97 748.82,464.33 762.48,476.69 776.14,489.04 789.81,501.34 803.47,513.60 817.13,525.81 830.79,537.94 844.45,550.00 858.11,561.96 871.77,573.82 885.43,585.58 899.09,597.21 912.75,608.73 926.42,620.11 940.08,631.35 953.74,642.44 967.40,653.39 981.06,664.18 994.72,674.82 1008.38,685.29 1022.04,695.59 1035.70,705.73 1049.37,715.69 1063.03,725.48 1076.69,735.10 1090.35,744.54 1104.01,753.81 1117.67,762.89 1131.33,771.80 1144.99,780.53 1158.65,789.09 1172.31,797.47 1185.98,805.67 1199.64,813.70 1213.30,821.55 1226.96,829.23 1240.62,836.74 1254.28,844.09 1267.94,851.26 1281.60,858.27 1295.26,865.12 1308.92,871.80 1322.59,878.33 1336.25,884.70 1349.91,890.92 1363.57,896.99 1377.23,902.91 1390.89,908.68 1404.55,914.31 1418.21,919.80 1431.87,925.15 1445.53,930.37 1459.19,935.45 1472.86,940.41 1486.52,945.23 1500.18,949.94 1513.84,954.52 1527.50,958.98"/>
<path fill="#00C66D" d="M175.06,393.60L185.19,376.05L164.93,376.05ZM188.72,279.41L198.85,261.86L178.59,261.86ZM202.38,230.07L212.52,212.52L192.25,212.52ZM216.04,203.90L226.18,186.35L205.91,186.35ZM229.71,188.79L239.84,171.24L219.57,171.24ZM243.37,179.88L253.50,162.33L233.23,162.33ZM257.03,174.84L267.16,157.29L246.89,157.29ZM270.69,172.40L280.82,154.85L260.56,154.85ZM284.35,171.84L294.48,154.29L274.22,154.29ZM298.01,172.71L308.14,155.16L287.88,155.16ZM311.67,174.72L321.80,157.17L301.54,157.17ZM325.33,177.68L335.46,160.13L315.20,160.13ZM338.99,181.44L349.13,163.89L328.86,163.89ZM352.65,185.92L362.79,168.37L342.52,168.37ZM366.31,191.03L376.45,173.48L356.18,173.48ZM379.98,196.73L390.11,179.18L369.84,179.18ZM393.64,202.96L403.77,185.41L383.50,185.41ZM407.30,209.70L417.43,192.15L397.17,192.15ZM420.96,216.91L431.09,199.36L410.83,199.36ZM434.62,224.56L444.75,207.01L424.49,207.01ZM448.28,232.62L458.41,215.07L438.15,215.07ZM461.94,241.09L472.07,223.54L451.81,223.54ZM475.60,249.94L485.74,232.39L465.47,232.39ZM489.26,259.13L499.40,241.58L479.13,241.58ZM502.92,268.67L513.06,251.12L492.79,251.12ZM516.59,278.52L526.72,260.97L506.45,260.97ZM530.25,288.67L540.38,271.12L520.11,271.12ZM543.91,299.10L554.04,281.55L533.78,281.55ZM557.57,309.78L567.70,292.23L547.44,292.23ZM571.23,320.71L581.36,303.16L561.10,303.16ZM584.89,331.85L595.02,314.30L574.76,314.30ZM598.55,343.20L608.68,325.65L588.42,325.65ZM612.21,354.73L622.35,337.18L602.08,337.18ZM625.87,366.42L636.01,348.87L615.74,348.87ZM639.53,378.26L649.67,360.71L629.40,360.71ZM653.20,390.22L663.33,372.67L643.06,372.67ZM666.86,402.29L676.99,384.74L656.72,384.74ZM680.52,414.45L690.65,396.90L670.39,396.90ZM694.18,426.69L704.31,409.14L684.05,409.14ZM707.84,438.98L717.97,421.43L697.71,421.43ZM721.50,451.31L731.63,433.76L711.37,433.76ZM735.16,463.67L745.29,446.12L725.03,446.12ZM748.82,476.03L758.96,458.48L738.69,458.48ZM762.48,488.39L772.62,470.84L752.35,470.84ZM776.14,500.74L786.28,483.19L766.01,483.19ZM789.81,513.04L799.94,495.49L779.67,495.49ZM803.47,525.30L813.60,507.75L793.33,507.75ZM817.13,537.51L827.26,519.96L807.00,519.96ZM830.79,549.64L840.92,532.09L820.66,532.09ZM844.45,561.70L854.58,544.15L834.32,544.15ZM858.11,573.66L868.24,556.11L847.98,556.11ZM871.77,585.52L881.90,567.97L861.64,567.97ZM885.43,597.28L895.57,579.73L875.30,579.73ZM899.09,608.91L909.23,591.36L888.96,591.36ZM912.75,620.43L922.89,602.88L902.62,602.88ZM926.42,631.81L936.55,614.26L916.28,614.26ZM940.08,643.05L950.21,625.50L929.94,625.50ZM953.74,654.14L963.87,636.59L943.61,636.59ZM967.40,665.09L977.53,647.54L957.27,647.54ZM981.06,675.88L991.19,658.33L970.93,658.33ZM994.72,686.52L1004.85,668.97L984.59,668.97ZM1008.38,696.99L1018.51,679.44L998.25,679.44ZM1022.04,707.29L1032.18,689.74L1011.91,689.74ZM1035.70,717.43L1045.84,699.88L1025.57,699.88ZM1049.37,727.39L1059.50,709.84L1039.23,709.84ZM1063.03,737.18L1073.16,719.63L1052.89,719.63ZM1076.69,746.80L1086.82,729.25L1066.55,729.25ZM1090.35,756.24L1100.48,738.69L1080.22,738.69ZM1104.01,765.51L1114.14,747.96L1093.88,747.96ZM1117.67,774.59L1127.80,757.04L1107.54,757.04ZM1131.33,783.50L1141.46,765.95L1121.20,765.95ZM1144.99,792.23L1155.12,774.68L1134.86,774.68ZM1158.65,800.79L1168.79,783.24L1148.52,783.24ZM1172.31,809.17L1182.45,791.62L1162.18,791.62ZM1185.98,817.37L1196.11,799.82L1175.84,799.82ZM1199.64,825.40L1209.77,807.85L1189.50,807.85ZM1213.30,833.25L1223.43,815.70L1203.16,815.70ZM1226.96,840.93L1237.09,823.38L1216.83,823.38ZM1240.62,848.44L1250.75,830.89L1230.49,830.89ZM1254.28,855.79L1264.41,838.24L1244.15,838.24ZM1267.94,862.96L1278.07,845.41L1257.81,845.41ZM1281.60,869.97L1291.73,852.42L1271.47,852.42ZM1295.26,876.82L1305.40,859.27L1285.13,859.27ZM1308.92,883.50L1319.06,865.95L1298.79,865.95ZM1322.59,890.03L1332.72,872.48L1312.45,872.48ZM1336.25,896.40L1346.38,878.85L1326.11,878.85ZM1349.91,902.62L1360.04,885.07L1339.77,885.07ZM1363.57,908.69L1373.70,891.14L1353.44,891.14ZM1377.23,914.61L1387.36,897.06L1367.10,897.06ZM1390.89,920.38L1401.02,902.83L1380.76,902.83ZM1404.55,926.01L1414.68,908.46L1394.42,908.46ZM1418.21,931.50L1428.34,913.95L1408.08,913.95ZM1431.87,936.85L1442.01,919.30L1421.74,919.30ZM1445.53,942.07L1455.67,924.52L1435.40,924.52ZM1459.19,947.15L1469.33,929.60L1449.06,929.60ZM1472.86,952.11L1482.99,934.56L1462.72,934.56ZM1486.52,956.93L1496.65,939.38L1476.38,939.38ZM1500.18,961.64L1510.31,944.09L1490.05,944.09ZM1513.84,966.22L1523.97,948.67L1503.71,948.67ZM1527.50,970.68L1537.63,953.13L1517.37,953.13Z"/>
<polyline fill="none" stroke="#C000D2" stroke-width="5.20" stroke-linejoin="round" stroke-linecap="round" points="175.06,435.17 188.72,327.49 202.38,280.24 216.04,255.51 229.71,242.05 243.37,235.16 257.03,232.54 270.69,232.93 284.35,235.55 298.01,239.94 311.67,245.76 325.33,252.78 338.99,260.84 352.65,269.81 366.31,279.59 379.98,290.09 393.64,301.25 407.30,312.99 420.96,325.27 434.62,338.02 448.28,351.21 461.94,364.78 475.60,378.68 489.26,392.89 502.92,407.35 516.59,422.02 530.25,436.87 543.91,451.87 557.57,466.97 571.23,482.14 584.89,497.35 598.55,512.57 612.21,527.76 625.87,542.91 639.53,557.99 653.20,572.97 666.86,587.83 680.52,602.55 694.18,617.10 707.84,631.48 721.50,645.67 735.16,659.64 748.82,673.40 762.48,686.92 776.14,700.20 789.81,713.22 803.47,725.99 817.13,738.48 830.79,750.71 844.45,762.66 858.11,774.33 871.77,785.72 885.43,796.83 899.09,807.65 912.75,818.19 926.42,828.45 940.08,838.43 953.74,848.13 967.40,857.55 981.06,866.70 994.72,875.57 1008.38,884.19 1022.04,892.54 1035.70,900.63 1049.37,908.47 1063.03,916.06 1076.69,923.41 1090.35,930.52 1104.01,937.40 1117.67,944.05 1131.33,950.48 1144.99,956.70 1158.65,962.70 1172.31,968.50 1185.98,974.10 1199.64,979.51 1213.30,984.73 1226.96,989.77 1240.62,994.63 1254.28,999.32 1267.94,1003.84 1281.60,1008.20 1295.26,1012.41 1308.92,1016.46 1322.59,1020.37 1336.25,1024.14 1349.91,1027.77 1363.57,1031.27 1377.23,1034.64 1390.89,1037.89 1404.55,1041.02 1418.21,1044.03 1431.87,1046.94 1445.53,1049.73 1459.19,1052.43 1472.86,1055.02 1486.52,1057.52 1500.18,1059.93 1513.84,1062.25 1527.50,1064.48"/>
<path fill="#C000D2" d="M175.06,425.07L165.46,432.05L169.12,443.34L181.00,443.34L184.67,432.05ZM188.72,317.39L179.12,324.36L182.79,335.66L194.66,335.66L198.33,324.36ZM202.38,270.14L192.78,277.11L196.45,288.41L208.32,288.41L211.99,277.11ZM216.04,245.41L206.44,252.39L210.11,263.69L221.98,263.69L225.65,252.39ZM229.71,231.95L220.10,238.92L223.77,250.22L235.64,250.22L239.31,238.92ZM243.37,225.06L233.76,232.04L237.43,243.33L249.30,243.33L252.97,232.04ZM257.03,222.44L247.42,229.42L251.09,240.71L262.96,240.71L266.63,229.42ZM270.69,222.83L261.08,229.81L264.75,241.10L276.62,241.10L280.29,229.81ZM284.35,225.45L274.74,232.43L278.41,243.73L290.29,243.73L293.95,232.43ZM298.01,229.84L288.40,236.82L292.07,248.11L303.95,248.11L307.62,236.82ZM311.67,235.66L302.07,242.64L305.73,253.93L317.61,253.93L321.28,242.64ZM325.33,242.68L315.73,249.66L319.40,260.95L331.27,260.95L334.94,249.66ZM338.99,250.74L329.39,257.72L333.06,269.01L344.93,269.01L348.60,257.72ZM352.65,259.71L343.05,266.69L346.72,277.98L358.59,277.98L362.26,266.69ZM366.31,269.49L356.71,276.47L360.38,287.76L372.25,287.76L375.92,276.47ZM379.98,279.99L370.37,286.97L374.04,298.27L385.91,298.27L389.58,286.97ZM393.64,291.15L384.03,298.13L387.70,309.42L399.57,309.42L403.24,298.13ZM407.30,302.89L397.69,309.87L401.36,321.16L413.23,321.16L416.90,309.87ZM420.96,315.17L411.35,322.15L415.02,333.44L426.90,333.44L430.56,322.15ZM434.62,327.92L425.01,334.90L428.68,346.19L440.56,346.19L444.23,334.90ZM448.28,341.11L438.68,348.09L442.34,359.38L454.22,359.38L457.89,348.09ZM461.94,354.68L452.34,361.65L456.01,372.95L467.88,372.95L471.55,361.65ZM475.60,368.58L466.00,375.56L469.67,386.85L481.54,386.85L485.21,375.56ZM489.26,382.79L479.66,389.77L483.33,401.06L495.20,401.06L498.87,389.77ZM502.92,397.25L493.32,404.23L496.99,415.52L508.86,415.52L512.53,404.23ZM516.59,411.92L506.98,418.90L510.65,430.19L522.52,430.19L526.19,418.90ZM530.25,426.77L520.64,433.75L524.31,445.05L536.18,445.05L539.85,433.75ZM543.91,441.77L534.30,448.75L537.97,460.04L549.84,460.04L553.51,448.75ZM557.57,456.87L547.96,463.85L551.63,475.14L563.51,475.14L567.17,463.85ZM571.23,472.04L561.62,479.02L565.29,490.31L577.17,490.31L580.84,479.02ZM584.89,487.25L575.29,494.23L578.95,505.52L590.83,505.52L594.50,494.23ZM598.55,502.47L588.95,509.44L592.62,520.74L604.49,520.74L608.16,509.44ZM612.21,517.66L602.61,524.64L606.28,535.93L618.15,535.93L621.82,524.64ZM625.87,532.81L616.27,539.79L619.94,551.09L631.81,551.09L635.48,539.79ZM639.53,547.89L629.93,554.87L633.60,566.16L645.47,566.16L649.14,554.87ZM653.20,562.87L643.59,569.85L647.26,581.14L659.13,581.14L662.80,569.85ZM666.86,577.73L657.25,584.71L660.92,596.00L672.79,596.00L676.46,584.71ZM680.52,592.45L670.91,599.43L674.58,610.72L686.45,610.72L690.12,599.43ZM694.18,607.00L684.57,613.98L688.24,625.27L700.12,625.27L703.78,613.98ZM707.84,621.38L698.23,628.36L701.90,639.65L713.78,639.65L717.45,628.36ZM721.50,635.57L711.90,642.55L715.56,653.84L727.44,653.84L731.11,642.55ZM735.16,649.54L725.56,656.52L729.23,667.81L741.10,667.81L744.77,656.52ZM748.82,663.30L739.22,670.28L742.89,681.57L754.76,681.57L758.43,670.28ZM762.48,676.82L752.88,683.80L756.55,695.09L768.42,695.09L772.09,683.80ZM776.14,690.10L766.54,697.07L770.21,708.37L782.08,708.37L785.75,697.07ZM789.81,703.12L780.20,710.10L783.87,721.39L795.74,721.39L799.41,710.10ZM803.47,715.89L793.86,722.86L797.53,734.16L809.40,734.16L813.07,722.86ZM817.13,728.38L807.52,735.36L811.19,746.65L823.06,746.65L826.73,735.36ZM830.79,740.61L821.18,747.59L824.85,758.88L836.73,758.88L840.39,747.59ZM844.45,752.56L834.84,759.54L838.51,770.83L850.39,770.83L854.06,759.54ZM858.11,764.23L848.51,771.21L852.17,782.50L864.05,782.50L867.72,771.21ZM871.77,775.62L862.17,782.60L865.84,793.89L877.71,793.89L881.38,782.60ZM885.43,786.73L875.83,793.71L879.50,805.00L891.37,805.00L895.04,793.71ZM899.09,797.55L889.49,804.53L893.16,815.82L905.03,815.82L908.70,804.53ZM912.75,808.09L903.15,815.07L906.82,826.36L918.69,826.36L922.36,815.07ZM926.42,818.35L916.81,825.33L920.48,836.62L932.35,836.62L936.02,825.33ZM940.08,828.33L930.47,835.31L934.14,846.60L946.01,846.60L949.68,835.31ZM953.74,838.03L944.13,845.00L947.80,856.30L959.67,856.30L963.34,845.00ZM967.40,847.45L957.79,854.43L961.46,865.72L973.34,865.72L977.00,854.43ZM981.06,856.60L971.45,863.57L975.12,874.87L987.00,874.87L990.67,863.57ZM994.72,865.47L985.12,872.45L988.78,883.74L1000.66,883.74L1004.33,872.45ZM1008.38,874.09L998.78,881.06L1002.45,892.36L1014.32,892.36L1017.99,881.06ZM1022.04,882.44L1012.44,889.41L1016.11,900.71L1027.98,900.71L1031.65,889.41ZM1035.70,890.53L1026.10,897.51L1029.77,908.80L1041.64,908.80L1045.31,897.51ZM1049.37,898.37L1039.76,905.35L1043.43,916.64L1055.30,916.64L1058.97,905.35ZM1063.03,905.96L1053.42,912.94L1057.09,924.23L1068.96,924.23L1072.63,912.94ZM1076.69,913.31L1067.08,920.29L1070.75,931.58L1082.62,931.58L1086.29,920.29ZM1090.35,920.42L1080.74,927.40L1084.41,938.69L1096.28,938.69L1099.95,927.40ZM1104.01,927.30L1094.40,934.28L1098.07,945.57L1109.95,945.57L1113.61,934.28ZM1117.67,933.95L1108.06,940.93L1111.73,952.22L1123.61,952.22L1127.28,940.93ZM1131.33,940.38L1121.73,947.36L1125.39,958.65L1137.27,958.65L1140.94,947.36ZM1144.99,946.60L1135.39,953.57L1139.06,964.87L1150.93,964.87L1154.60,953.57ZM1158.65,952.60L1149.05,959.58L1152.72,970.87L1164.59,970.87L1168.26,959.58ZM1172.31,958.40L1162.71,965.38L1166.38,976.67L1178.25,976.67L1181.92,965.38ZM1185.98,964.00L1176.37,970.98L1180.04,982.27L1191.91,982.27L1195.58,970.98ZM1199.64,969.41L1190.03,976.39L1193.70,987.68L1205.57,987.68L1209.24,976.39ZM1213.30,974.63L1203.69,981.61L1207.36,992.90L1219.23,992.90L1222.90,981.61ZM1226.96,979.67L1217.35,986.65L1221.02,997.94L1232.89,997.94L1236.56,986.65ZM1240.62,984.53L1231.01,991.51L1234.68,1002.80L1246.56,1002.80L1250.22,991.51ZM1254.28,989.22L1244.67,996.20L1248.34,1007.49L1260.22,1007.49L1263.89,996.20ZM1267.94,993.74L1258.34,1000.72L1262.00,1012.01L1273.88,1012.01L1277.55,1000.72ZM1281.60,998.10L1272.00,1005.08L1275.67,1016.37L1287.54,1016.37L1291.21,1005.08ZM1295.26,1002.31L1285.66,1009.29L1289.33,1020.58L1301.20,1020.58L1304.87,1009.29ZM1308.92,1006.36L1299.32,1013.34L1302.99,1024.63L1314.86,1024.63L1318.53,1013.34ZM1322.59,1010.27L1312.98,1017.25L1316.65,1028.54L1328.52,1028.54L1332.19,1017.25ZM1336.25,1014.04L1326.64,1021.02L1330.31,1032.31L1342.18,1032.31L1345.85,1021.02ZM1349.91,1017.67L1340.30,1024.65L1343.97,1035.94L1355.84,1035.94L1359.51,1024.65ZM1363.57,1021.17L1353.96,1028.15L1357.63,1039.44L1369.50,1039.44L1373.17,1028.15ZM1377.23,1024.54L1367.62,1031.52L1371.29,1042.81L1383.17,1042.81L1386.83,1031.52ZM1390.89,1027.79L1381.28,1034.77L1384.95,1046.06L1396.83,1046.06L1400.50,1034.77ZM1404.55,1030.92L1394.95,1037.90L1398.61,1049.19L1410.49,1049.19L1414.16,1037.90ZM1418.21,1033.93L1408.61,1040.91L1412.28,1052.20L1424.15,1052.20L1427.82,1040.91ZM1431.87,1036.84L1422.27,1043.82L1425.94,1055.11L1437.81,1055.11L1441.48,1043.82ZM1445.53,1039.63L1435.93,1046.61L1439.60,1057.91L1451.47,1057.91L1455.14,1046.61ZM1459.19,1042.33L1449.59,1049.31L1453.26,1060.60L1465.13,1060.60L1468.80,1049.31ZM1472.86,1044.92L1463.25,1051.90L1466.92,1063.19L1478.79,1063.19L1482.46,1051.90ZM1486.52,1047.42L1476.91,1054.40L1480.58,1065.69L1492.45,1065.69L1496.12,1054.40ZM1500.18,1049.83L1490.57,1056.81L1494.24,1068.10L1506.11,1068.10L1509.78,1056.81ZM1513.84,1052.15L1504.23,1059.13L1507.90,1070.42L1519.78,1070.42L1523.44,1059.13ZM1527.50,1054.38L1517.89,1061.36L1521.56,1072.65L1533.44,1072.65L1537.11,1061.36Z"/>
</g>
<rect x="161.40" y="47.10" width="1366.10" height="1099.30" fill="none" stroke="#000" stroke-width="2.5"/>
<text transform="translate(146.3,1140.50) scale(1,1.040)" font-size="52" text-anchor="end">0.0</text>
<text transform="translate(146.3,1032.72) scale(1,1.040)" font-size="52" text-anchor="end">0.1</text>
<text transform="translate(146.3,924.94) scale(1,1.040)" font-size="52" text-anchor="end">0.2</text>
<text transform="translate(146.3,817.16) scale(1,1.040)" font-size="52" text-anchor="end">0.3</text>
<text transform="translate(146.3,709.38) scale(1,1.040)" font-size="52" text-anchor="end">0.4</text>
<text transform="translate(146.3,601.60) scale(1,1.040)" font-size="52" text-anchor="end">0.5</text>
<text transform="translate(146.3,493.82) scale(1,1.040)" font-size="52" text-anchor="end">0.6</text>
<text transform="translate(146.3,386.04) scale(1,1.040)" font-size="52" text-anchor="end">0.7</text>
<text transform="translate(146.3,278.26) scale(1,1.040)" font-size="52" text-anchor="end">0.8</text>
<text transform="translate(146.3,170.48) scale(1,1.040)" font-size="52" text-anchor="end">0.9</text>
<text transform="translate(146.3,62.70) scale(1,1.040)" font-size="52" text-anchor="end">1.0</text>
<text transform="translate(161.40,1201) scale(1,1.040)" font-size="52" text-anchor="middle">0</text>
<text transform="translate(434.62,1201) scale(1,1.040)" font-size="52" text-anchor="middle">20</text>
<text transform="translate(707.84,1201) scale(1,1.040)" font-size="52" text-anchor="middle">40</text>
<text transform="translate(981.06,1201) scale(1,1.040)" font-size="52" text-anchor="middle">60</text>
<text transform="translate(1254.28,1201) scale(1,1.040)" font-size="52" text-anchor="middle">80</text>
<text transform="translate(1527.50,1201) scale(1,1.040)" font-size="52" text-anchor="middle">100</text>
<text x="573.2" y="1289.7" font-size="52.2">Receiving Site Number</text>
<text x="1077.2" y="1289.7" font-size="56" font-style="italic">N</text>
<text x="1095.5" y="1272.4" font-size="52.2" textLength="13.7" lengthAdjust="spacingAndGlyphs">ˆ</text>
<text transform="translate(62,1024) rotate(-90)" font-size="52.5">Detection Probility For a Specific Target</text>
<rect x="210.90" y="699.60" width="353.70" height="377.60" fill="#fff" stroke="#000" stroke-width="2.4"/>
<line x1="218.7" y1="741.40" x2="349.5" y2="741.40" stroke="#FF0000" stroke-width="5.40" stroke-linecap="round"/>
<path fill="#FF0000" d="M285.50,731.00L283.12,738.12L275.61,738.19L281.64,742.65L279.39,749.81L285.50,745.46L291.61,749.81L289.36,742.65L295.39,738.19L287.88,738.12Z"/>
<text x="382.1" y="757.50" font-size="43.5" font-style="italic">P</text>
<text x="401.4" y="767.60" font-size="28">FA</text>
<text x="438" y="763.10" font-size="43.5">=</text>
<text x="465.7" y="758.30" font-size="43.5" textLength="41.2" lengthAdjust="spacingAndGlyphs">10</text>
<text x="506.4" y="742.30" font-size="29.5">−</text>
<text x="521.6" y="739.30" font-size="30.5">4</text>
<line x1="218.7" y1="814.95" x2="349.5" y2="814.95" stroke="#0064A5" stroke-width="5.40" stroke-linecap="round"/>
<path fill="#0064A5" d="M276.50,814.95a9.00,9.00 0 1,0 18.00,0a9.00,9.00 0 1,0 -18.00,0Z"/>
<text x="382.1" y="832.20" font-size="43.5" font-style="italic">P</text>
<text x="401.4" y="842.30" font-size="28">FA</text>
<text x="438" y="837.80" font-size="43.5">=</text>
<text x="465.7" y="833.00" font-size="43.5" textLength="41.2" lengthAdjust="spacingAndGlyphs">10</text>
<text x="506.4" y="817.00" font-size="29.5">−</text>
<text x="521.6" y="814.00" font-size="30.5">6</text>
<line x1="218.7" y1="888.50" x2="349.5" y2="888.50" stroke="#FFC300" stroke-width="5.40" stroke-linecap="round"/>
<path fill="#FFC300" d="M285.50,877.50L296.50,888.50L285.50,899.50L274.50,888.50Z"/>
<text x="382.1" y="906.90" font-size="43.5" font-style="italic">P</text>
<text x="401.4" y="917.00" font-size="28">FA</text>
<text x="438" y="912.50" font-size="43.5">=</text>
<text x="465.7" y="907.70" font-size="43.5" textLength="41.2" lengthAdjust="spacingAndGlyphs">10</text>
<text x="506.4" y="891.70" font-size="29.5">−</text>
<text x="521.6" y="888.70" font-size="30.5">8</text>
<line x1="218.7" y1="962.05" x2="349.5" y2="962.05" stroke="#00C66D" stroke-width="5.40" stroke-linecap="round"/>
<path fill="#00C66D" d="M285.50,973.75L295.63,956.20L275.37,956.20Z"/>
<text x="382.1" y="981.60" font-size="43.5" font-style="italic">P</text>
<text x="401.4" y="991.70" font-size="28">FA</text>
<text x="438" y="987.20" font-size="43.5">=</text>
<text x="465.7" y="982.40" font-size="43.5" textLength="41.2" lengthAdjust="spacingAndGlyphs">10</text>
<text x="506.4" y="966.40" font-size="29.5">−</text>
<text x="524.2" y="963.40" font-size="30.5" textLength="27.7" lengthAdjust="spacingAndGlyphs">10</text>
<line x1="218.7" y1="1035.60" x2="349.5" y2="1035.60" stroke="#C000D2" stroke-width="5.40" stroke-linecap="round"/>
<path fill="#C000D2" d="M285.50,1025.50L275.89,1032.48L279.56,1043.77L291.44,1043.77L295.11,1032.48Z"/>
<text x="382.1" y="1056.30" font-size="43.5" font-style="italic">P</text>
<text x="401.4" y="1066.40" font-size="28">FA</text>
<text x="438" y="1061.90" font-size="43.5">=</text>
<text x="465.7" y="1057.10" font-size="43.5" textLength="41.2" lengthAdjust="spacingAndGlyphs">10</text>
<text x="506.4" y="1041.10" font-size="29.5">−</text>
<text x="524.2" y="1038.10" font-size="30.5" textLength="27.7" lengthAdjust="spacingAndGlyphs">12</text>
</svg></body></html>
